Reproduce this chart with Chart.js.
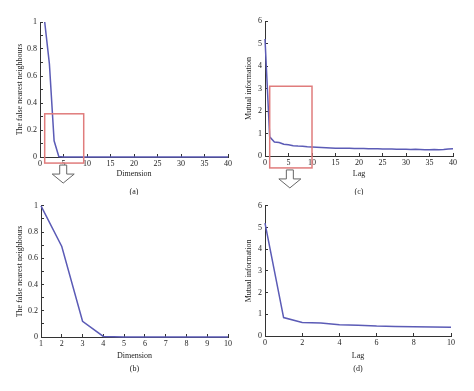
<!DOCTYPE html>
<html>
<head>
<meta charset="utf-8">
<script src="https://cdn.jsdelivr.net/npm/chart.js@4.4.0/dist/chart.umd.min.js"></script>
<style>
  body { margin: 0; background: #fff; }
  #wrap { position: relative; width: 474px; height: 391px; }
  .cell { position: absolute; }
</style>
</head>
<body>
<div id="wrap">
  <div class="cell" style="left:0;top:0;width:237px;height:195px"><canvas id="chartA"></canvas></div>
  <div class="cell" style="left:237px;top:0;width:237px;height:195px"><canvas id="chartC"></canvas></div>
  <div class="cell" style="left:0;top:195px;width:237px;height:196px"><canvas id="chartB"></canvas></div>
  <div class="cell" style="left:237px;top:195px;width:237px;height:196px"><canvas id="chartD"></canvas></div>
</div>
<script>
// false nearest neighbours, embedding dimension 1..40
const dimensions = [];
for (let d = 1; d <= 40; d++) dimensions.push(d);
const fnnValues = [1, 0.69, 0.12, 0.004, 0, 0, 0, 0, 0, 0,
  0, 0, 0, 0, 0, 0, 0, 0, 0, 0,
  0, 0, 0, 0, 0, 0, 0, 0, 0, 0,
  0, 0, 0, 0, 0, 0, 0, 0, 0, 0];

// mutual information, lag 0..40
const lags = [];
for (let l = 0; l <= 40; l++) lags.push(l);
const miValues = [5.2, 0.85, 0.62, 0.6, 0.52, 0.5, 0.46, 0.44, 0.43, 0.41,
  0.4, 0.39, 0.38, 0.37, 0.36, 0.35, 0.35, 0.34, 0.34, 0.33,
  0.33, 0.33, 0.32, 0.32, 0.32, 0.31, 0.31, 0.31, 0.3, 0.3,
  0.3, 0.29, 0.3, 0.29, 0.28, 0.28, 0.29, 0.28, 0.29, 0.31, 0.32];

// zoom windows marked in the overview plots: [xmin, xmax, ymin, ymax]
const fnnZoomBox = [1, 9.3, -0.045, 0.32];
const miZoomBox = [1, 10, -0.53, 3.1];

const LINE = '#5b5bb6';
const AXIS = '#333';
const FONT = 'Liberation Serif';

function points(xs, ys, maxX) {
  const out = [];
  xs.forEach((x, i) => { if (x <= maxX) out.push({x: x, y: ys[i]}); });
  return out;
}

const boxPlugin = {
  id: 'zoomBox',
  afterDatasetsDraw(chart, args, opts) {
    const ctx = chart.ctx;
    const sx = chart.scales.x, sy = chart.scales.y;
    if (opts.box) {
      const b = opts.box;
      const x1 = sx.getPixelForValue(b[0]), x2 = sx.getPixelForValue(b[1]);
      const y1 = sy.getPixelForValue(b[3]), y2 = sy.getPixelForValue(b[2]);
      ctx.save();
      ctx.strokeStyle = '#e07c7c';
      ctx.lineWidth = 1.5;
      ctx.strokeRect(x1, y1, x2 - x1, y2 - y1);
      // hollow arrow pointing to the zoomed panel
      const cx = (x1 + x2) / 2 - 1, top = y2 + 2;
      ctx.beginPath();
      ctx.moveTo(cx - 3.5, top);
      ctx.lineTo(cx + 3.5, top);
      ctx.lineTo(cx + 3.5, top + 9);
      ctx.lineTo(cx + 11, top + 9);
      ctx.lineTo(cx, top + 18);
      ctx.lineTo(cx - 11, top + 9);
      ctx.lineTo(cx - 3.5, top + 9);
      ctx.closePath();
      ctx.fillStyle = '#fff';
      ctx.fill();
      ctx.strokeStyle = '#666';
      ctx.lineWidth = 1;
      ctx.stroke();
      ctx.restore();
    }
    if (opts.caption) {
      const a = chart.chartArea;
      ctx.save();
      ctx.fillStyle = '#222';
      ctx.font = '8px "' + FONT + '"';
      ctx.textAlign = 'center';
      ctx.textBaseline = 'middle';
      ctx.fillText(opts.caption, (a.left + a.right) / 2, opts.captionY);
      ctx.restore();
    }
  }
};

function makeChart(id, cfg) {
  const data = points(cfg.xs, cfg.ys, cfg.xMax);
  return new Chart(document.getElementById(id), {
    type: 'line',
    data: {
      datasets: [{
        data: data,
        borderColor: LINE,
        borderWidth: 1.5,
        pointRadius: 0,
        tension: 0,
        clip: 3
      }]
    },
    options: {
      responsive: true,
      maintainAspectRatio: false,
      animation: false,
      events: [],
      layout: { padding: { left: 0, top: cfg.top, right: cfg.right, bottom: 0 } },
      plugins: {
        legend: { display: false },
        tooltip: { enabled: false },
        zoomBox: { box: cfg.box, caption: cfg.caption, captionY: cfg.captionY }
      },
      scales: {
        x: {
          type: 'linear',
          min: cfg.xMin, max: cfg.xMax,
          afterFit: s => { s.height = cfg.xHeight; },
          border: { color: AXIS, width: 1 },
          grid: { drawOnChartArea: false, tickLength: -3, color: AXIS },
          ticks: {
            stepSize: cfg.xStep, padding: 5, maxRotation: 0, autoSkip: false,
            color: '#222', font: { family: FONT, size: 8 }
          },
          title: {
            display: true, text: cfg.xTitle, color: '#222',
            font: { family: FONT, size: 8 },
            padding: { top: 0, bottom: cfg.xTitlePad }
          }
        },
        y: {
          min: cfg.yMin, max: cfg.yMax,
          afterFit: s => { s.width = cfg.yWidth; },
          border: { color: AXIS, width: 1 },
          grid: { drawOnChartArea: false, tickLength: -3, color: AXIS },
          ticks: {
            stepSize: cfg.yStep, padding: 6, autoSkip: false,
            color: '#222', font: { family: FONT, size: 8 },
            callback: cfg.yLabel
          },
          title: {
            display: true, text: cfg.yTitle, color: '#222',
            font: { family: FONT, size: 8 },
            padding: { top: cfg.yTitlePad, bottom: 0 }
          }
        }
      }
    },
    plugins: [boxPlugin]
  });
}

const fnnLabel = v => (Math.round(v * 10) % 2 === 0 ? String(+v.toFixed(1)) : '');
const miLabel = v => String(v);

makeChart('chartA', {
  xs: dimensions, ys: fnnValues, xMin: 0, xMax: 40, xStep: 5,
  yMin: 0, yMax: 1, yStep: 0.1, yLabel: fnnLabel,
  top: 22, right: 8, xHeight: 38, yWidth: 40,
  xTitle: 'Dimension', xTitlePad: 16,
  yTitle: 'The false nearest neighbours', yTitlePad: 15,
  box: fnnZoomBox, caption: '(a)', captionY: 192
});

makeChart('chartB', {
  xs: dimensions, ys: fnnValues, xMin: 1, xMax: 10, xStep: 1,
  yMin: 0, yMax: 1, yStep: 0.1, yLabel: fnnLabel,
  top: 7, right: 8, xHeight: 54, yWidth: 41,
  xTitle: 'Dimension', xTitlePad: 30,
  yTitle: 'The false nearest neighbours', yTitlePad: 15,
  caption: '(b)', captionY: 174
});

makeChart('chartC', {
  xs: lags, ys: miValues, xMin: 0, xMax: 40, xStep: 5,
  yMin: 0, yMax: 6, yStep: 1, yLabel: miLabel,
  top: 21, right: 21, xHeight: 39, yWidth: 28,
  xTitle: 'Lag', xTitlePad: 16,
  yTitle: 'Mutual information', yTitlePad: 7,
  box: miZoomBox, caption: '(c)', captionY: 192
});

makeChart('chartD', {
  xs: lags, ys: miValues, xMin: 0, xMax: 10, xStep: 2,
  yMin: 0, yMax: 6, yStep: 1, yLabel: miLabel,
  top: 7, right: 23, xHeight: 55, yWidth: 28,
  xTitle: 'Lag', xTitlePad: 30,
  yTitle: 'Mutual information', yTitlePad: 7,
  caption: '(d)', captionY: 174
});
</script>
</body>
</html>
